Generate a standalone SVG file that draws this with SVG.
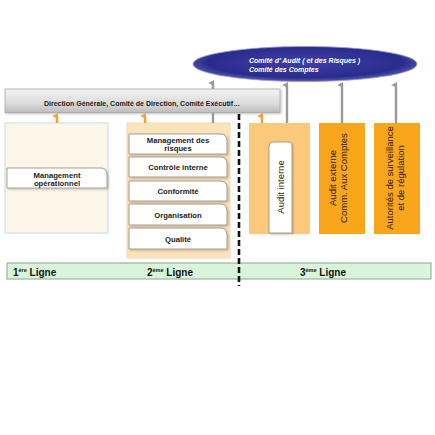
<svg xmlns="http://www.w3.org/2000/svg" width="435" height="435" viewBox="0 0 435 435">
<defs>
<linearGradient id="barGrad" x1="0" y1="0" x2="0" y2="1">
<stop offset="0" stop-color="#f4f4f4"/>
<stop offset="0.6" stop-color="#dcdcdc"/>
<stop offset="1" stop-color="#bdbdbd"/>
</linearGradient>
<radialGradient id="ellGrad" cx="0.5" cy="0.45" r="0.55">
<stop offset="0" stop-color="#3d40a8"/>
<stop offset="0.8" stop-color="#2a2c8c"/>
<stop offset="1" stop-color="#5a5cb0"/>
</radialGradient>
<marker id="ag" viewBox="0 0 10 10" refX="5" refY="8" markerWidth="6" markerHeight="6" orient="auto-start-reverse" markerUnits="userSpaceOnUse">
<path d="M0,10 L5,0 L10,10 z" fill="#9a9a9a"/>
</marker>
<marker id="ao" viewBox="0 0 10 10" refX="5" refY="8" markerWidth="6" markerHeight="6" orient="auto-start-reverse" markerUnits="userSpaceOnUse">
<path d="M0,10 L5,0 L10,10 z" fill="#eea63a"/>
</marker>
<filter id="sh" x="-5%" y="-10%" width="110%" height="130%">
<feDropShadow dx="1" dy="1" stdDeviation="0.8" flood-color="#000" flood-opacity="0.25"/>
</filter>
</defs>
<style>
text{font-family:"Liberation Sans",Arial,sans-serif;fill:#222;}
.b{font-weight:bold;}
.lbl{font-size:7.7px;font-weight:bold;text-anchor:middle;}
.vt{font-size:9.5px;text-anchor:middle;fill:#2a1a00;}
.ln{font-size:10px;font-weight:bold;fill:#111;}
.sup{font-size:5.5px;font-weight:bold;}
.item{fill:#ffffff;stroke:#9c968c;stroke-width:0.9;}
.gl{stroke:#9a9a9a;stroke-width:2.4;fill:none;}
.ol{stroke:#eea63a;stroke-width:2.6;fill:none;}
</style>
<rect width="435" height="435" fill="#ffffff"/>

<g id="comite-audit">
<ellipse cx="305" cy="64" rx="112" ry="17.5" fill="url(#ellGrad)" stroke="#9a9ad0" stroke-width="0.8"/>
<text x="249" y="63" font-size="7" font-style="italic" font-weight="bold" style="fill:#ffffff">Comité d’ Audit ( et des Risques )</text>
<text x="249" y="71.5" font-size="7" font-style="italic" font-weight="bold" style="fill:#ffffff">Comité des Comptes</text>
</g>

<g id="direction">
<rect x="5" y="89" width="275" height="23.5" fill="url(#barGrad)" stroke="#a8a8a8" stroke-width="0.8" filter="url(#sh)"/>
<text x="142" y="105.5" font-size="7" class="b" text-anchor="middle">Direction Générale, Comité de Direction, Comité Exécutif…</text>
</g>

<g id="ligne1">
<rect x="5" y="123" width="103" height="110" fill="#fdf7ea" stroke="#d3e0e4" stroke-width="1.2"/>
<path class="item" filter="url(#sh)" d="M7,168 H101 Q106,168 107,174 V188 H7 Z"/>
<text class="lbl" x="57" y="177.5">Management</text>
<text class="lbl" x="57" y="185.5">opérationnel</text>
</g>

<g id="ligne2">
<rect x="127" y="123" width="103" height="135" fill="#fde3ba" stroke="#f2dcb6" stroke-width="1"/>
<path class="item" filter="url(#sh)" d="M129,134 H221 Q226,134 227,140 V154 H129 Z"/>
<text class="lbl" x="178" y="143">Management des</text>
<text class="lbl" x="178" y="151">risques</text>
<path class="item" filter="url(#sh)" d="M129,157 H221 Q226,157 227,163 V177 H129 Z"/>
<text class="lbl" x="178" y="169.5">Contrôle interne</text>
<path class="item" filter="url(#sh)" d="M129,181 H221 Q226,181 227,187 V201 H129 Z"/>
<text class="lbl" x="178" y="194">Conformité</text>
<path class="item" filter="url(#sh)" d="M129,204 H221 Q226,204 227,210 V225 H129 Z"/>
<text class="lbl" x="178" y="217.5">Organisation</text>
<path class="item" filter="url(#sh)" d="M129,228 H221 Q226,228 227,234 V249 H129 Z"/>
<text class="lbl" x="178" y="241.5">Qualité</text>
</g>

<g id="audit-interne">
<rect x="249" y="123" width="61" height="111" fill="#fcc97c"/>
<path class="item" filter="url(#sh)" d="M269,233 V147 Q269,142 274,142 H289 Q292,142 292,146 V233 Z"/>
<text class="vt" transform="translate(284,187) rotate(-90)">Audit interne</text>
</g>

<g id="audit-externe">
<rect x="319" y="123" width="46" height="111" fill="#f9a61c"/>
<text class="vt" transform="translate(336,178) rotate(-90)">Audit externe</text>
<text class="vt" transform="translate(347,178) rotate(-90)">Comm. Aux Comptes</text>
</g>

<g id="autorites">
<rect x="374" y="123" width="46" height="111" fill="#f9a61c"/>
<text class="vt" transform="translate(393,178) rotate(-90)">Autorités de surveillance</text>
<text class="vt" transform="translate(404,178) rotate(-90)">et de régulation</text>
</g>

<g id="lignes">
<rect x="7" y="263" width="424" height="16" fill="#d9f5d9" stroke="#8ea48e" stroke-width="1"/>
<text x="13" y="275.5" class="ln">1<tspan class="sup" dy="-3.5">ère</tspan><tspan dy="3.5"> Ligne</tspan></text>
<text x="147" y="275.5" class="ln">2<tspan class="sup" dy="-3.5">ème</tspan><tspan dy="3.5"> Ligne</tspan></text>
<text x="300" y="275.5" class="ln">3<tspan class="sup" dy="-3.5">ème</tspan><tspan dy="3.5"> Ligne</tspan></text>
</g>

<g id="connectors">
<line class="gl" x1="287" y1="123" x2="287" y2="85" marker-end="url(#ag)"/>
<line class="gl" x1="342" y1="123" x2="342" y2="85" marker-end="url(#ag)"/>
<line class="gl" x1="396" y1="123" x2="396" y2="85" marker-end="url(#ag)"/>
<line class="gl" x1="213" y1="89" x2="213" y2="83" marker-end="url(#ag)"/>
<line class="gl" x1="213" y1="123" x2="213" y2="113"/>
<line class="ol" x1="57" y1="123" x2="57" y2="116" marker-end="url(#ao)"/>
<line class="ol" x1="145" y1="123" x2="145" y2="116" marker-end="url(#ao)"/>
<line class="ol" x1="262" y1="123" x2="262" y2="116" marker-end="url(#ao)"/>
<line x1="239" y1="114" x2="239" y2="286" stroke="#111" stroke-width="2.6" stroke-dasharray="6,3"/>
</g>
</svg>
